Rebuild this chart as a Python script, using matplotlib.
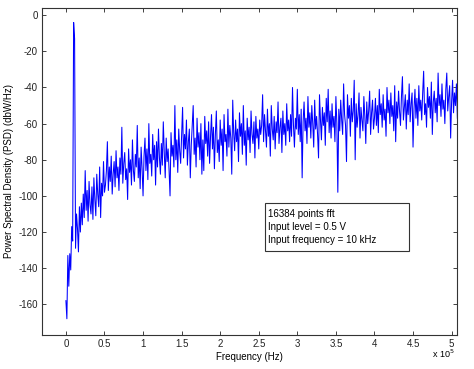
import numpy as np
import matplotlib
matplotlib.use("Agg")
import matplotlib.pyplot as plt
from matplotlib.patches import Rectangle

plt.rcParams['font.family'] = ['Liberation Sans', 'DejaVu Sans']
plt.rcParams['axes.unicode_minus'] = False

# Frequency grid of the spectrum (uniform FFT bins, Hz)
f_start = 0.0
f_step = 1250.0

# PSD values (dBW/Hz)
psd_db = [
    -158, -168, -133, -150, -132, -141, -117, -125, -4, -13, -129, -110, -118, -131, -106, -120,
    -104, -116, -99, -112, -86, -108, -97, -114, -92, -105, -110, -95, -113, -90, -102, -111,
    -88, -99, -106, -84, -112, -93, -100, -81, -98,
    -94, -86, -70, -97, -84, -92, -78, -99, -88, -81, -95, -75, -90, -84, -97, -79, -88, -62,
    -93, -82, -76, -91, -85, -102, -74, -87, -80, -94, -69, -86, -92, -77, -84, -61, -90, -79,
    -96, -73, -85, -100,
    -78, -68, -86, -74, -91, -60, -82, -77, -89, -66, -80, -72, -94, -70, -84, -63, -79, -88,
    -71, -83, -59, -76, -90, -68, -81, -74, -86, -100, -65, -78, -72, -84, -50, -80, -69, -87,
    -63, -75, -82, -67,
    -51, -79, -66, -74, -58, -83, -70, -63, -90, -72, -61, -50, -77, -68, -84, -57, -73, -65,
    -80, -60, -88, -69, -86, -56, -71, -64, -78, -59, -82, -67, -55, -74, -62, -85, -66, -53,
    -76, -69, -81, -58,
    -72, -63, -86, -55, -70, -66, -78, -52, -73, -61, -68, -88, -47, -65, -75, -58, -70, -63,
    -81, -54, -67, -60, -77, -50, -72, -64, -83, -57, -69, -62, -76, -53, -66, -71, -59, -79,
    -56, -68, -63, -74,
    -58, -66, -61, -44, -70, -55, -64, -73, -52, -67, -60, -78, -50, -63, -69, -56, -74, -59,
    -65, -48, -71, -62, -57, -76, -53, -66, -60, -72, -49, -64, -58, -70, -55, -67, -40, -61,
    -73, -57, -63, -41,
    -66, -55, -70, -52, -90, -59, -48, -64, -57, -71, -45, -62, -54, -68, -50, -60, -73, -47,
    -63, -56, -66, -79, -44, -58, -69, -51, -61, -54, -72, -46, -59, -41, -65, -53, -68, -49,
    -62, -56, -70, -45,
    -60, -98, -52, -64, -47, -58, -66, -38, -55, -61, -81, -44, -57, -50, -67, -46, -59, -53,
    -36, -80, -49, -62, -55, -43, -68, -51, -58, -64, -45, -56, -71, -48, -60, -53, -42, -66,
    -54, -47, -63, -57,
    -46, -61, -50, -65, -41, -55, -49, -62, -44, -58, -52, -67, -40, -54, -47, -60, -43, -56,
    -50, -64, -39, -70, -48, -57, -42, -53, -61, -45, -34, -58, -51, -44, -63, -47, -55, -38,
    -59, -49, -43, -73,
    -52, -41, -57, -46, -61, -39, -53, -47, -58, -43, -31, -55, -49, -62, -40, -51, -45, -57,
    -37, -66, -48, -42, -54, -46, -59, -32, -50, -44, -56, -38, -52, -47, -60, -41, -32, -53,
    -45, -39, -68, -48, -36, -54, -43, -50, -38, -57,
]

yticks = [-160, -140, -120, -100, -80, -60, -40, -20, 0]
xticks_hz = [0, 50000, 100000, 150000, 200000, 250000, 300000, 350000, 400000, 450000, 500000]
xtick_labels = ['0', '0.5', '1', '1.5', '2', '2.5', '3', '3.5', '4', '4.5', '5']
info_lines = ['16384 points fft', 'Input level = 0.5 V', 'Input frequency = 10 kHz']

psd = np.array(psd_db, dtype=float)
freq = f_start + f_step * np.arange(len(psd))

fig = plt.figure(figsize=(4.74, 3.69), dpi=100)
ax = fig.add_axes([42/474, 34/369, 415/474, 327/369])
ax.plot(freq, psd, color=(0, 0, 1), lw=0.75)

ax.set_xlim(-31000, 507000)
ax.set_ylim(-177, 4)
ax.set_xticks(xticks_hz)
ax.set_xticklabels(xtick_labels)
ax.set_yticks(yticks)
ax.tick_params(direction='in', length=3, width=0.6, top=True, right=True,
               labelsize=7, colors='#222222', pad=3)
for s in ax.spines.values():
    s.set_linewidth(0.8)
    s.set_color('#333333')

ax.set_xlabel('Frequency (Hz)', fontsize=7, labelpad=2)
ax.set_ylabel('Power Spectral Density (PSD) (dbW/Hz)', fontsize=7, labelpad=3)
ax.text(0.995, -0.04, r'x 10$^5$', transform=ax.transAxes, fontsize=6.5,
        ha='right', va='top')

# info box
bx0, by0 = (265-42)/415, (335-251)/327
bw, bh = (409-265)/415, (251-203)/327
ax.add_patch(Rectangle((bx0, by0), bw, bh, transform=ax.transAxes,
                       facecolor='white', edgecolor='#333333', lw=0.8, zorder=5))
for k, line in enumerate(info_lines):
    ax.text(bx0 + 3/415, by0 + bh - (11 + 13*k)/327, line, transform=ax.transAxes,
            fontsize=7, ha='left', va='center', zorder=6)

fig.savefig('out.png', dpi=100)
